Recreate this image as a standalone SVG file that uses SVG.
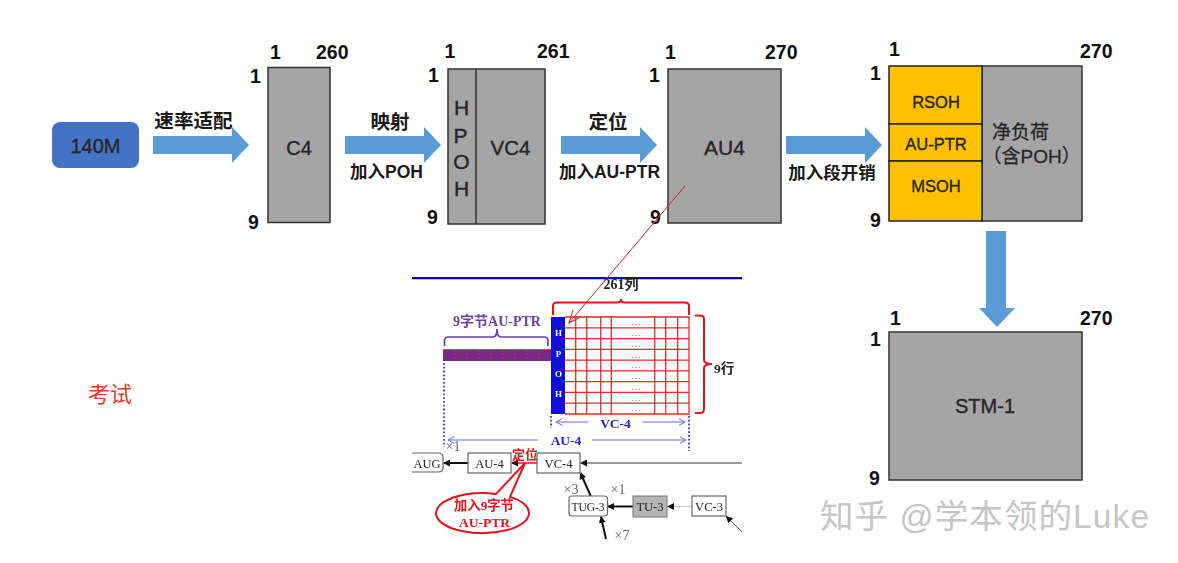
<svg xmlns="http://www.w3.org/2000/svg" width="1178" height="563" viewBox="0 0 1178 563">
<style>
text{font-family:"Liberation Sans","Noto Sans CJK SC",sans-serif;fill:#262626}
.n{font-size:19.5px;font-weight:700;fill:#111}
.l{font-size:17.5px;font-weight:700;fill:#1a1a1a;text-anchor:middle}
.t{font-size:19.6px;font-weight:700;fill:#1a1a1a;text-anchor:middle}
.c{font-size:20px;text-anchor:middle;stroke:#262626;stroke-width:.4}
.s{font-size:16.5px;text-anchor:middle;stroke:#262626;stroke-width:.35}
.box{fill:#a5a5a5;stroke:#333;stroke-width:1.5}
.or{fill:#ffc000;stroke:#222;stroke-width:1.5}
.ar{fill:#5b9bd5}
.f text{font-family:"Liberation Serif","Noto Sans CJK SC",serif}
.f .b{font-size:12.5px;fill:#222;text-anchor:middle}
.f .x{font-size:14px;fill:#666;text-anchor:middle}
.f .d{font-size:10px;fill:#e58;text-anchor:middle}
.f .h{font-size:9px;font-weight:700;fill:#fff;text-anchor:middle}
.f .blue{font-size:13.5px;font-weight:700;fill:#2222cc;text-anchor:middle}
.f .red{font-weight:700;fill:#e0141c;text-anchor:middle}
.ib{fill:#fff;stroke:#666;stroke-width:1.2}
.dot{fill:none;stroke:#3a3ab8;stroke-width:1.8;stroke-dasharray:1.8 2}
.thin{fill:none;stroke:#6a6ae0;stroke-width:1}
.k{fill:none;stroke:#111;stroke-width:2}
</style>
<defs>
<marker id="ah" markerWidth="7" markerHeight="8" refX="6" refY="4" orient="auto" markerUnits="userSpaceOnUse"><path d="M0 .5L7 4L0 7.5Z" fill="#111"/></marker>
<marker id="al" markerWidth="7" markerHeight="8" refX="6.5" refY="4" orient="auto" markerUnits="userSpaceOnUse"><path d="M0 .5L6.5 4L0 7.5" fill="none" stroke="#6a6ae0" stroke-width="1"/></marker>
<marker id="ar" markerWidth="14" markerHeight="14" refX="13" refY="7" orient="auto" markerUnits="userSpaceOnUse"><path d="M0 1.5L13 7L0 12.5" fill="none" stroke="#d0202c" stroke-width="1"/></marker>
<filter id="soft" x="0" y="0" width="1" height="1"><feGaussianBlur stdDeviation=".35"/></filter>
</defs>
<rect width="1178" height="563" fill="#fff"/>

<g id="connectors">
<path class="ar" d="M153 136H232V127L249 145L232 163V154H153Z"/>
<path class="ar" d="M345 136H424V127L441 145L424 163V154H345Z"/>
<path class="ar" d="M561 136H640V127L657 145L640 163V154H561Z"/>
<path class="ar" d="M786 136H865V127L882 145L865 163V154H786Z"/>
<path class="ar" d="M986 231H1006V308H1015L997 327L979 308H986Z"/>
<text class="t" x="193.500" y="128">速率适配</text>
<text class="t" x="390" y="129">映射</text>
<text class="l" x="386.500" y="178">加入POH</text>
<text class="t" x="608" y="129">定位</text>
<text class="l" x="609.500" y="178">加入AU-PTR</text>
<text class="l" x="832" y="179">加入段开销</text>
</g>

<g id="node-140M">
<rect x="52" y="122" width="87" height="46" rx="8" fill="#4472c4"/>
<text class="c" x="95.500" y="152.500">140M</text>
</g>

<g id="node-C4">
<rect class="box" x="268" y="67.500" width="62" height="155"/>
<text class="c" x="299" y="155">C4</text>
<text class="n" x="270" y="59">1</text><text class="n" x="316" y="59">260</text>
<text class="n" x="250" y="83">1</text><text class="n" x="248" y="229">9</text>
</g>

<g id="node-VC4">
<rect class="box" x="448" y="69" width="97" height="155"/>
<path d="M476 69V224" stroke="#333" stroke-width="1.500"/>
<g><text x="461.500" y="115" class="c" style="font-size:21px">H</text><text x="460.500" y="142.700" class="c" style="font-size:21px">P</text><text x="461.500" y="169" class="c" style="font-size:21px">O</text><text x="461.500" y="196" class="c" style="font-size:21px">H</text></g>
<text class="c" x="510.500" y="155" style="font-size:20.500px">VC4</text>
<text class="n" x="444.500" y="58">1</text><text class="n" x="537" y="58">261</text>
<text class="n" x="428" y="82">1</text><text class="n" x="427" y="224">9</text>
</g>

<g id="node-AU4">
<rect class="box" x="668" y="69" width="113" height="154"/>
<text class="c" x="724.500" y="155" style="font-size:21px">AU4</text>
<text class="n" x="665" y="59">1</text><text class="n" x="765" y="59">270</text>
<text class="n" x="649" y="82">1</text><text class="n" x="650" y="224">9</text>
</g>

<g id="node-frame">
<rect class="box" x="982" y="66" width="100" height="155"/>
<rect class="or" x="889" y="66" width="93" height="58"/>
<rect class="or" x="889" y="124" width="93" height="37"/>
<rect class="or" x="889" y="161" width="93" height="60"/>
<text class="s" x="936" y="108">RSOH</text>
<text class="s" x="936" y="150">AU-PTR</text>
<text class="s" x="936" y="192">MSOH</text>
<text x="992" y="139" style="font-size:19px;stroke:#262626;stroke-width:.3">净负荷</text>
<text x="982.500" y="163" style="font-size:19px;stroke:#262626;stroke-width:.3">（含POH）</text>
<text class="n" x="889" y="56">1</text><text class="n" x="1080" y="58">270</text>
<text class="n" x="870" y="80">1</text><text class="n" x="870" y="227">9</text>
</g>

<g id="node-STM1">
<rect class="box" x="889" y="332" width="193" height="148"/>
<text class="c" x="985" y="413">STM-1</text>
<text class="n" x="890" y="325">1</text><text class="n" x="1080" y="325">270</text>
<text class="n" x="870" y="346">1</text><text class="n" x="869" y="485">9</text>
</g>

<g id="inset" class="f" filter="url(#soft)">
<path d="M412 277.500H742" stroke="#0b0b9b" stroke-width="3.500"/>
<text x="621" y="289" style="font-size:14px;font-weight:700;fill:#222;text-anchor:middle">261列</text>
<path d="M553 315V306Q553 302.500 557 302.500H617Q621 302.500 621 299Q621 302.500 625 302.500H685Q689 302.500 689 306V315" fill="none" stroke="#e0141c" stroke-width="2"/>
<text x="497" y="326" style="font-size:14px;font-weight:700;fill:#6b3fa0;text-anchor:middle">9字节AU-PTR</text>
<path d="M444.500 346V341Q444.500 337 448 337H493Q497 337 497 329Q497 337 501 337H544Q548 337 548 341V346" fill="none" stroke="#6b3fa0" stroke-width="1.700"/>
<rect x="443" y="349" width="108" height="12" fill="#7a2a85"/>
<path d="M455 349V361M467 349V361M479 349V361M491 349V361M503 349V361M515 349V361M527 349V361M539 349V361" stroke="#d0305a" stroke-width="1" stroke-dasharray="2 2"/>
<path d="M443 349.500H551" stroke="#e0405a" stroke-width="1"/>
<rect x="551" y="317" width="14" height="97" fill="#0d0dd8"/>
<path d="M565 317H689V414H565M565 327.800H689M565 338.600H689M565 349.300H689M565 360.100H689M565 370.900H689M565 381.700H689M565 392.400H689M565 403.200H689M575.700 317V414M586.700 317V414M600.700 317V414M611.300 317V414M654.700 317V414M665.700 317V414M677.700 317V414M689 317V414" fill="none" stroke="#e82a2a" stroke-width="1.300"/>
<g>
<text class="d" x="636" y="325">…</text><text class="d" x="636" y="336">…</text><text class="d" x="636" y="347">…</text><text class="d" x="636" y="358">…</text><text class="d" x="636" y="368">…</text><text class="d" x="636" y="379">…</text><text class="d" x="636" y="390">…</text><text class="d" x="636" y="401">…</text><text class="d" x="636" y="411">…</text>
</g>
<text class="h" x="558.500" y="335.500">H</text><text class="h" x="558.500" y="356.500">P</text><text class="h" x="558.500" y="377">O</text><text class="h" x="558.500" y="397">H</text>
<path d="M695 315.500H700Q704 315.500 704 319V360Q704 364 712 364Q704 364 704 368V409Q704 413 700 413H695" fill="none" stroke="#e0141c" stroke-width="2"/>
<text x="714" y="373" style="font-size:13.500px;font-weight:700;fill:#222">9行</text>
<path class="dot" d="M444 363V447M551 416V428M689 416V451"/>
<path class="thin" d="M588 422H556" marker-end="url(#al)"/><path class="thin" d="M643 422H685" marker-end="url(#al)"/>
<text class="blue" x="615.500" y="428">VC-4</text>
<path class="thin" d="M538 440H448" marker-end="url(#al)"/><path class="thin" d="M592 440H686" marker-end="url(#al)"/>
<text class="blue" x="566" y="444.500">AU-4</text>
<text class="x" x="453" y="451">×1</text><text class="x" x="571" y="494">×3</text><text class="x" x="618" y="494">×1</text><text class="x" x="622" y="540">×7</text>
<path class="k" d="M468 463H444" marker-end="url(#ah)"/>
<path d="M537 463H512" stroke="#e0141c" stroke-width="1.500" fill="none" marker-end="url(#ah)"/>
<path d="M742 463H581" stroke="#333" stroke-width="1" fill="none" marker-end="url(#ah)"/>
<path class="k" d="M590.700 496L580.500 473" marker-end="url(#ah)"/>
<path class="k" d="M633 506.500H608" marker-end="url(#ah)"/>
<path d="M692 506.500H668" stroke="#ccc" stroke-width="1.400" fill="none" marker-end="url(#ah)"/>
<path d="M742 532L726.500 516.500" stroke="#333" stroke-width=".8" fill="none" marker-end="url(#ah)"/>
<path class="k" d="M606 539L601 517" marker-end="url(#ah)"/>
<path d="M412 453H438Q443 453 443 457V468Q443 472 438 472H412" class="ib"/>
<text class="b" x="427" y="467.500">AUG</text>
<rect class="ib" x="468" y="453" width="43" height="20"/><text class="b" x="489.500" y="467.500">AU-4</text>
<rect class="ib" x="537" y="453" width="43" height="20"/><text class="b" x="558.500" y="467.500">VC-4</text>
<rect class="ib" x="569" y="496" width="38.500" height="20" rx="3"/><text class="b" x="588" y="510.500" style="font-size:11.500px">TUG-3</text>
<rect x="633" y="496" width="34" height="21" fill="#b5b5b5" stroke="#777"/><text class="b" x="650" y="510.500">TU-3</text>
<rect class="ib" x="692" y="496" width="34" height="20"/><text class="b" x="709" y="510.500">VC-3</text>
<path d="M525 463L510 496.900A46.500 20 0 1 1 496 493.900Z" fill="#fff" stroke="#e0141c" stroke-width="2"/>
<text class="red" x="525" y="459" style="font-size:13px">定位</text>
<text class="red" x="484" y="510" style="font-size:13.300px">加入9字节</text>
<text class="red" x="484.500" y="527" style="font-size:13.500px">AU-PTR</text>
</g>

<g id="pointer">
<path d="M685 186L569 323" fill="none" stroke="#d0202c" stroke-width="1" marker-end="url(#ar)"/>
</g>

<text id="note" x="88" y="402" style="font-size:22px;fill:#e03a2a">考试</text>
<text id="watermark" x="820" y="528" style="font-size:33.500px;fill:#c6c6c6;letter-spacing:1.1px">知乎 @学本领的Luke</text>
</svg>
